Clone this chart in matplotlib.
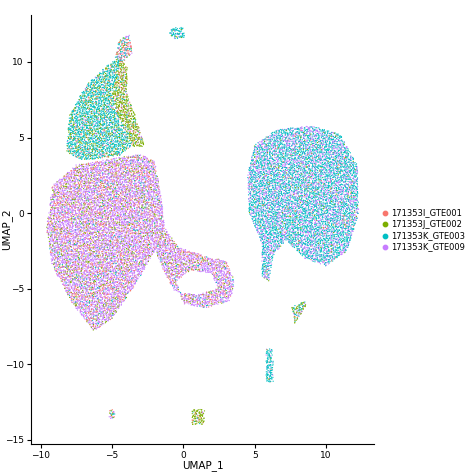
import matplotlib
matplotlib.use("Agg")
import matplotlib.pyplot as plt
import numpy as np
from matplotlib.path import Path

GROUPS = ["171353I_GTE001", "171353J_GTE002", "171353K_GTE003", "171353K_GTE009"]
COLORS = ["#F8766D", "#7CAE00", "#00BFC4", "#C77CFF"]

# cluster outlines (UMAP_1, UMAP_2) and group shares
LEFT_LOBE = [(-9.6, -1), (-9.2, 1.8), (-7.5, 3.2), (-5, 3.6), (-3, 3.9), (-2, 3.4),
             (-1.6, 1.5), (-1.3, -1), (-0.3, -2.3), (1.5, -2.8), (3, -3.2), (3.6, -4.5),
             (3.3, -5.8), (1.5, -6.3), (0, -6), (-0.5, -4.5), (0.5, -3.8), (2, -4),
             (2.4, -5), (1, -5.4), (-0.6, -5.2), (-1.3, -4), (-2, -2.5), (-3.2, -4.5),
             (-5, -7), (-6.3, -7.8), (-7.8, -6), (-9.2, -3.5)]
LEFT_SHARE = [0.18, 0.12, 0.05, 0.65]
UPPER_ARM = [(-8.2, 4), (-8, 6.5), (-6.8, 8.5), (-5.3, 9.8), (-4.5, 10.3), (-4.6, 9.3),
             (-5.0, 8), (-4.6, 6.5), (-3.6, 4.4), (-4.5, 3.8), (-7, 3.5)]
UPPER_SHARE = [0.05, 0.2, 0.7, 0.05]
GREEN_STRAND = [(-4.6, 9.3), (-4.5, 10.3), (-3.9, 9.6), (-4.0, 8), (-3.4, 6.5),
                (-2.7, 4.4), (-3.6, 4.4), (-4.6, 6.5), (-5.0, 8)]
GREEN_SHARE = [0.1, 0.75, 0.1, 0.05]
TOP_TIP = [(-4.8, 10.2), (-4.5, 11.5), (-3.8, 11.8), (-3.6, 10.6), (-4.2, 10)]
TOP_SHARE = [0.4, 0.1, 0.3, 0.2]
TOP_SMALL = [(-1, 11.8), (-0.8, 12.3), (0, 12.3), (0.1, 11.6), (-0.5, 11.5)]
TOP_SMALL_SHARE = [0.05, 0.05, 0.8, 0.1]
RIGHT_OVAL = [(4.5, 2.5), (5, 4.5), (6.5, 5.5), (9, 5.8), (11, 5.2), (12.2, 3.2),
              (12.3, 0), (11.5, -2.5), (10, -3.5), (8.5, -3), (7.2, -1.8), (6.3, -2.8),
              (6, -4.5), (5.5, -4.2), (5.5, -2), (4.6, 0)]
RIGHT_SHARE = [0.02, 0.03, 0.6, 0.35]
CLUSTER_A = [(5.8, -9), (6.3, -9), (6.3, -11.2), (5.8, -11.2)]
CLUSTER_A_SHARE = [0.05, 0.05, 0.85, 0.05]
CLUSTER_B = [(0.6, -13), (1.5, -13), (1.5, -14), (0.6, -14)]
CLUSTER_B_SHARE = [0.1, 0.8, 0.05, 0.05]
CLUSTER_C = [(-5.2, -13), (-4.8, -13), (-4.8, -13.6), (-5.2, -13.6)]
CLUSTER_C_SHARE = [0.3, 0.2, 0.2, 0.3]
TAIL = [(7.6, -6.2), (8.5, -5.8), (8.6, -6.2), (7.8, -7.3)]
TAIL_SHARE = [0.1, 0.5, 0.3, 0.1]

CLUSTERS = [(LEFT_LOBE, LEFT_SHARE), (UPPER_ARM, UPPER_SHARE),
            (GREEN_STRAND, GREEN_SHARE), (TOP_TIP, TOP_SHARE),
            (TOP_SMALL, TOP_SMALL_SHARE), (RIGHT_OVAL, RIGHT_SHARE),
            (CLUSTER_A, CLUSTER_A_SHARE), (CLUSTER_B, CLUSTER_B_SHARE),
            (CLUSTER_C, CLUSTER_C_SHARE), (TAIL, TAIL_SHARE)]

STEP = 0.09


def hash01(k):
    # deterministic pseudo-hash in [0, 1)
    v = np.sin(k * 12.9898 + 78.233) * 43758.5453
    return v - np.floor(v)


def fill_outline(poly, share, offset):
    poly = np.array(poly)
    xs = np.arange(poly[:, 0].min(), poly[:, 0].max(), STEP)
    ys = np.arange(poly[:, 1].min(), poly[:, 1].max(), STEP)
    gx, gy = np.meshgrid(xs, ys)
    pts = np.column_stack([gx.ravel(), gy.ravel()])
    k = np.arange(len(pts)) + offset
    pts[:, 0] += (hash01(k * 1.3) - 0.5) * STEP * 1.6
    pts[:, 1] += (hash01(k * 2.7) - 0.5) * STEP * 1.6
    inside = Path(poly).contains_points(pts)
    pts, k = pts[inside], k[inside]
    cum = np.cumsum(share) / np.sum(share)
    grp = np.minimum(np.searchsorted(cum, hash01(k * 0.77), side="right"), 3)
    return pts, grp


fig = plt.figure(figsize=(4.74, 4.74), dpi=100)
ax = fig.add_axes([0.065, 0.063, 0.725, 0.905])

all_pts, all_grp = [], []
for i, (poly, share) in enumerate(CLUSTERS):
    p, g = fill_outline(poly, share, i * 100000)
    all_pts.append(p)
    all_grp.append(g)
pts = np.concatenate(all_pts)
grp = np.concatenate(all_grp)
order = np.argsort(hash01(np.arange(len(pts)) * 3.1))
pts, grp = pts[order], grp[order]
ax.scatter(pts[:, 0], pts[:, 1], c=np.array(COLORS)[grp], s=0.8, linewidths=0)

for name, col in zip(GROUPS, COLORS):
    ax.scatter([], [], color=col, s=10, label=name)
ax.legend(loc="center left", bbox_to_anchor=(1.0, 0.5), frameon=False,
          fontsize=6, handletextpad=0.1, labelspacing=0.25, borderaxespad=0.3,
          handlelength=1.2)

ax.set_xlim(-10.7, 13.4)
ax.set_ylim(-15.3, 13.1)
ax.set_xticks([-10, -5, 0, 5, 10])
ax.set_yticks([-15, -10, -5, 0, 5, 10])
ax.tick_params(labelsize=6.5, length=3, pad=2)
ax.set_xlabel("UMAP_1", fontsize=7.5, labelpad=0)
ax.set_ylabel("UMAP_2", fontsize=7.5)
ax.yaxis.set_label_coords(-0.055, 0.5)
for s in ["top", "right"]:
    ax.spines[s].set_visible(False)

fig.savefig("out.png", dpi=100)
